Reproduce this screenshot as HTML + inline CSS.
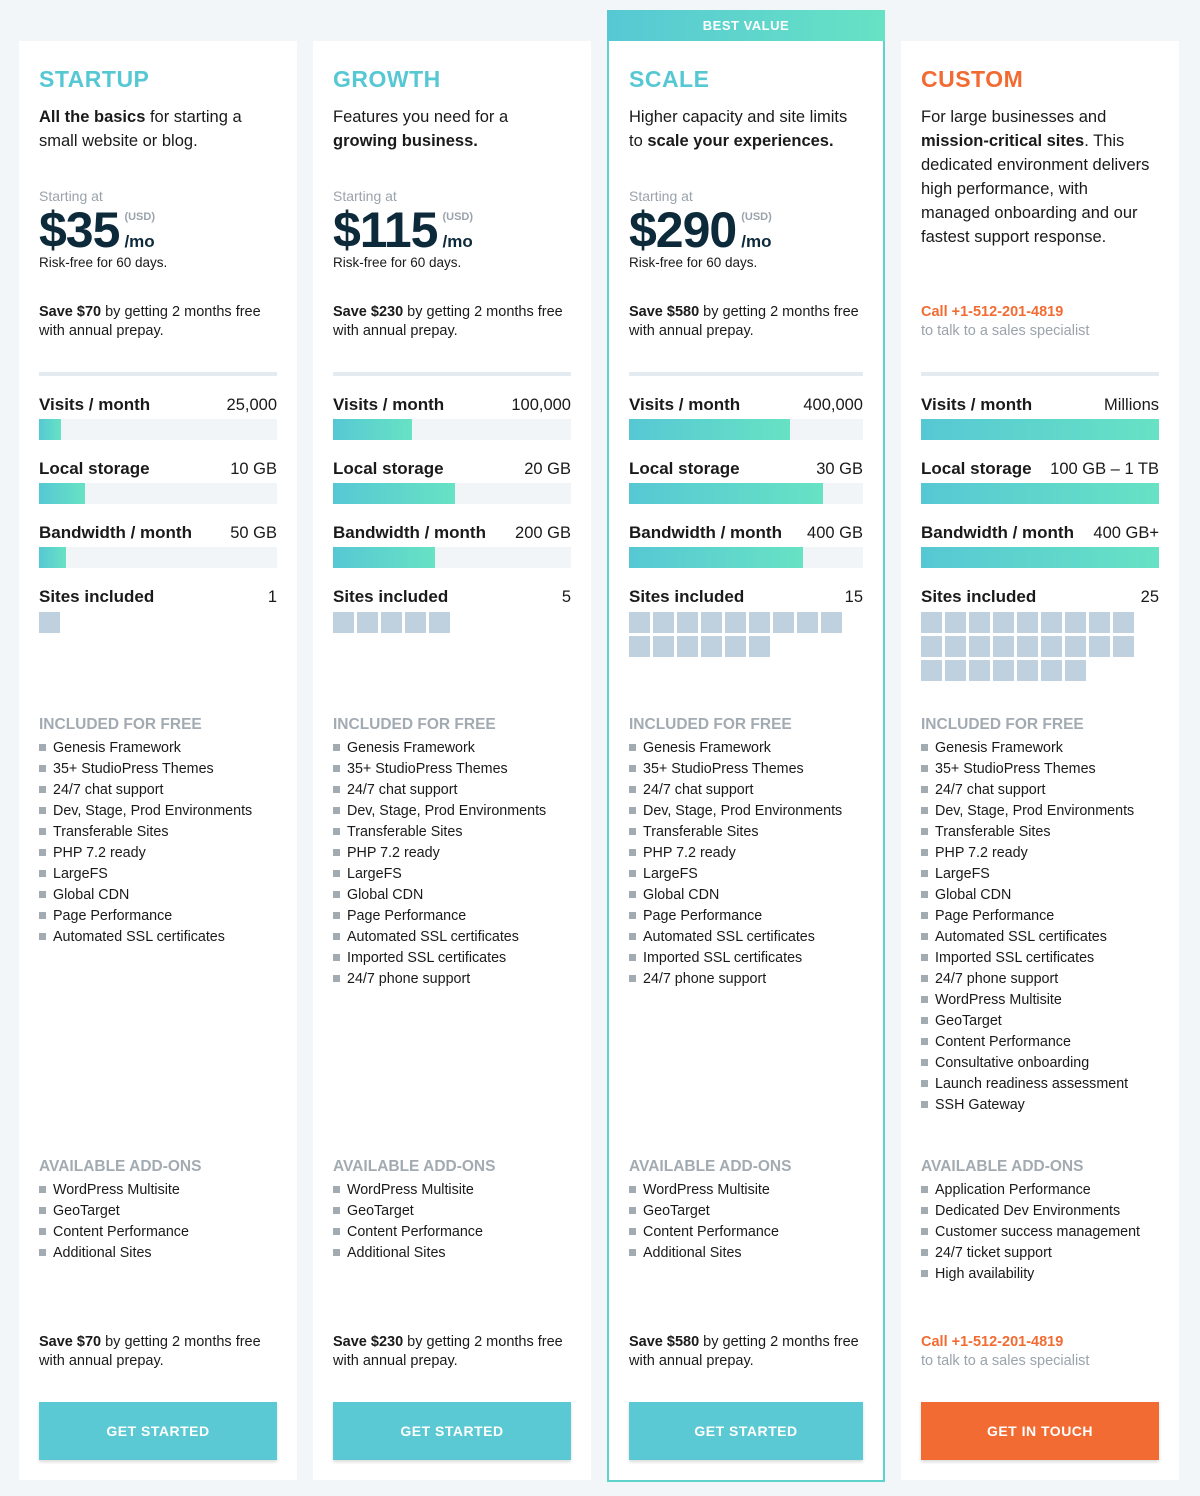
<!DOCTYPE html>
<html><head><meta charset="utf-8"><style>
*{margin:0;padding:0;box-sizing:border-box}
body{width:1200px;height:1496px;background:#f3f6f9;font-family:"Liberation Sans",sans-serif;color:#1a1a1a;position:relative;overflow:hidden}
.card{position:absolute;background:#fff;top:41px;height:1439px}
.col{position:absolute;top:0}
.a{position:absolute;left:0;white-space:nowrap}
.t{top:65px;font-size:23px;font-weight:bold;line-height:28px;color:#56c8d4;letter-spacing:.5px}
.d{top:105px;font-size:16.5px;line-height:24px}
.sa{top:187px;font-size:14px;line-height:18px;color:#9aa3ab}
.pr{top:201px;height:58px;display:flex}
.num{font-size:50px;font-weight:bold;line-height:58px;color:#0d2a3b;letter-spacing:-1px}
.sm{position:relative;width:44px;margin-left:5px}
.usd{position:absolute;top:9px;left:0;font-size:11px;font-weight:bold;color:#9aa3ab;line-height:14px}
.mo{position:absolute;top:31px;left:0;font-size:17px;font-weight:bold;color:#0d2a3b;line-height:20px}
.rf{top:254px;font-size:13.5px;line-height:18px}
.sv{font-size:14.5px;line-height:19px}
.dv{top:372px;height:4px;background:#e3eaf0}
.lb{font-size:17px;font-weight:bold;line-height:20px;display:flex;justify-content:space-between}
.lb span{font-weight:normal;font-size:16.5px}
.tr{height:21px;background:#f2f5f8}
.tr i{display:block;height:21px;background:linear-gradient(90deg,#56c8d4,#67e2c4)}
.bx{top:612px;display:flex;flex-wrap:wrap;gap:3px;white-space:normal}
.bx i{width:21px;height:21px;background:#bfd0df;display:block}
.h{font-size:15.5px;font-weight:bold;color:#a3abb2;line-height:20px}
ul{list-style:none;font-size:14.3px;line-height:21px}
li:before{content:"";display:inline-block;width:7px;height:7px;background:#a3abb2;margin-right:7px;vertical-align:1px}
.bt{top:1402px;height:58px;background:#5bc9d3;color:#fff;font-weight:bold;font-size:14px;letter-spacing:.5px;text-align:center;line-height:58px;box-shadow:0 2px 3px rgba(0,0,0,.15)}
.or{color:#f26b32}
.gr{color:#9aa3ab}
</style></head><body>

<div class="card" style="left:19px;width:278px"></div>
<div class="card" style="left:313px;width:278px"></div>
<div class="card" style="left:901px;width:278px"></div>
<div style="position:absolute;left:607px;top:10px;width:278px;height:1472px;border:2px solid #5dd3cc;background:#fff"></div>
<div style="position:absolute;left:607px;top:10px;width:278px;height:31px;background:linear-gradient(90deg,#56c8d4,#67e2c4);color:#fff;font-weight:bold;font-size:13px;text-align:center;line-height:31px;letter-spacing:.5px">BEST VALUE</div>

<!-- col 1 -->
<div class="col" style="left:39px;width:238px">
<div class="a t">STARTUP</div>
<div class="a d"><b>All the basics</b> for starting a<br>small website or blog.</div>
<div class="a sa">Starting at</div>
<div class="a pr"><span class="num">$35</span><span class="sm"><span class="usd">(USD)</span><span class="mo">/mo</span></span></div>
<div class="a rf">Risk-free for 60 days.</div>
<div class="a sv" style="top:303px"><b>Save $70</b> by getting 2 months free<br>with annual prepay.</div>
<div class="a dv" style="width:238px"></div>
<div class="a lb" style="top:395px;width:238px">Visits / month<span>25,000</span></div>
<div class="a tr" style="top:419px;width:238px"><i style="width:22px"></i></div>
<div class="a lb" style="top:459px;width:238px">Local storage<span>10 GB</span></div>
<div class="a tr" style="top:483px;width:238px"><i style="width:46px"></i></div>
<div class="a lb" style="top:523px;width:238px">Bandwidth / month<span>50 GB</span></div>
<div class="a tr" style="top:547px;width:238px"><i style="width:27px"></i></div>
<div class="a lb" style="top:587px;width:238px">Sites included<span>1</span></div>
<div class="a bx" style="width:238px"><i></i></div>
<div class="a h" style="top:715px">INCLUDED FOR FREE</div>
<ul class="a" style="top:738px"><li>Genesis Framework</li><li>35+ StudioPress Themes</li><li>24/7 chat support</li><li>Dev, Stage, Prod Environments</li><li>Transferable Sites</li><li>PHP 7.2 ready</li><li>LargeFS</li><li>Global CDN</li><li>Page Performance</li><li>Automated SSL certificates</li></ul>
<div class="a h" style="top:1157px">AVAILABLE ADD-ONS</div>
<ul class="a" style="top:1180px"><li>WordPress Multisite</li><li>GeoTarget</li><li>Content Performance</li><li>Additional Sites</li></ul>
<div class="a sv" style="top:1333px"><b>Save $70</b> by getting 2 months free<br>with annual prepay.</div>
<div class="a bt" style="width:238px">GET STARTED</div>
</div>

<!-- col 2 -->
<div class="col" style="left:333px;width:238px">
<div class="a t">GROWTH</div>
<div class="a d">Features you need for a<br><b>growing business.</b></div>
<div class="a sa">Starting at</div>
<div class="a pr"><span class="num">$115</span><span class="sm"><span class="usd">(USD)</span><span class="mo">/mo</span></span></div>
<div class="a rf">Risk-free for 60 days.</div>
<div class="a sv" style="top:303px"><b>Save $230</b> by getting 2 months free<br>with annual prepay.</div>
<div class="a dv" style="width:238px"></div>
<div class="a lb" style="top:395px;width:238px">Visits / month<span>100,000</span></div>
<div class="a tr" style="top:419px;width:238px"><i style="width:79px"></i></div>
<div class="a lb" style="top:459px;width:238px">Local storage<span>20 GB</span></div>
<div class="a tr" style="top:483px;width:238px"><i style="width:122px"></i></div>
<div class="a lb" style="top:523px;width:238px">Bandwidth / month<span>200 GB</span></div>
<div class="a tr" style="top:547px;width:238px"><i style="width:102px"></i></div>
<div class="a lb" style="top:587px;width:238px">Sites included<span>5</span></div>
<div class="a bx" style="width:238px"><i></i><i></i><i></i><i></i><i></i></div>
<div class="a h" style="top:715px">INCLUDED FOR FREE</div>
<ul class="a" style="top:738px"><li>Genesis Framework</li><li>35+ StudioPress Themes</li><li>24/7 chat support</li><li>Dev, Stage, Prod Environments</li><li>Transferable Sites</li><li>PHP 7.2 ready</li><li>LargeFS</li><li>Global CDN</li><li>Page Performance</li><li>Automated SSL certificates</li><li>Imported SSL certificates</li><li>24/7 phone support</li></ul>
<div class="a h" style="top:1157px">AVAILABLE ADD-ONS</div>
<ul class="a" style="top:1180px"><li>WordPress Multisite</li><li>GeoTarget</li><li>Content Performance</li><li>Additional Sites</li></ul>
<div class="a sv" style="top:1333px"><b>Save $230</b> by getting 2 months free<br>with annual prepay.</div>
<div class="a bt" style="width:238px">GET STARTED</div>
</div>

<!-- col 3 -->
<div class="col" style="left:629px;width:234px">
<div class="a t">SCALE</div>
<div class="a d">Higher capacity and site limits<br>to <b>scale your experiences.</b></div>
<div class="a sa">Starting at</div>
<div class="a pr"><span class="num">$290</span><span class="sm"><span class="usd">(USD)</span><span class="mo">/mo</span></span></div>
<div class="a rf">Risk-free for 60 days.</div>
<div class="a sv" style="top:303px"><b>Save $580</b> by getting 2 months free<br>with annual prepay.</div>
<div class="a dv" style="width:234px"></div>
<div class="a lb" style="top:395px;width:234px">Visits / month<span>400,000</span></div>
<div class="a tr" style="top:419px;width:234px"><i style="width:161px"></i></div>
<div class="a lb" style="top:459px;width:234px">Local storage<span>30 GB</span></div>
<div class="a tr" style="top:483px;width:234px"><i style="width:194px"></i></div>
<div class="a lb" style="top:523px;width:234px">Bandwidth / month<span>400 GB</span></div>
<div class="a tr" style="top:547px;width:234px"><i style="width:174px"></i></div>
<div class="a lb" style="top:587px;width:234px">Sites included<span>15</span></div>
<div class="a bx" style="width:220px"><i></i><i></i><i></i><i></i><i></i><i></i><i></i><i></i><i></i><i></i><i></i><i></i><i></i><i></i><i></i></div>
<div class="a h" style="top:715px">INCLUDED FOR FREE</div>
<ul class="a" style="top:738px"><li>Genesis Framework</li><li>35+ StudioPress Themes</li><li>24/7 chat support</li><li>Dev, Stage, Prod Environments</li><li>Transferable Sites</li><li>PHP 7.2 ready</li><li>LargeFS</li><li>Global CDN</li><li>Page Performance</li><li>Automated SSL certificates</li><li>Imported SSL certificates</li><li>24/7 phone support</li></ul>
<div class="a h" style="top:1157px">AVAILABLE ADD-ONS</div>
<ul class="a" style="top:1180px"><li>WordPress Multisite</li><li>GeoTarget</li><li>Content Performance</li><li>Additional Sites</li></ul>
<div class="a sv" style="top:1333px"><b>Save $580</b> by getting 2 months free<br>with annual prepay.</div>
<div class="a bt" style="width:234px">GET STARTED</div>
</div>

<!-- col 4 -->
<div class="col" style="left:921px;width:238px">
<div class="a t or">CUSTOM</div>
<div class="a d">For large businesses and<br><b>mission-critical sites</b>. This<br>dedicated environment delivers<br>high performance, with<br>managed onboarding and our<br>fastest support response.</div>
<div class="a sv" style="top:303px"><b class="or">Call +1-512-201-4819</b><br><span class="gr">to talk to a sales specialist</span></div>
<div class="a dv" style="width:238px"></div>
<div class="a lb" style="top:395px;width:238px">Visits / month<span>Millions</span></div>
<div class="a tr" style="top:419px;width:238px"><i style="width:238px"></i></div>
<div class="a lb" style="top:459px;width:238px">Local storage<span>100 GB – 1 TB</span></div>
<div class="a tr" style="top:483px;width:238px"><i style="width:238px"></i></div>
<div class="a lb" style="top:523px;width:238px">Bandwidth / month<span>400 GB+</span></div>
<div class="a tr" style="top:547px;width:238px"><i style="width:238px"></i></div>
<div class="a lb" style="top:587px;width:238px">Sites included<span>25</span></div>
<div class="a bx" style="width:220px"><i></i><i></i><i></i><i></i><i></i><i></i><i></i><i></i><i></i><i></i><i></i><i></i><i></i><i></i><i></i><i></i><i></i><i></i><i></i><i></i><i></i><i></i><i></i><i></i><i></i></div>
<div class="a h" style="top:715px">INCLUDED FOR FREE</div>
<ul class="a" style="top:738px"><li>Genesis Framework</li><li>35+ StudioPress Themes</li><li>24/7 chat support</li><li>Dev, Stage, Prod Environments</li><li>Transferable Sites</li><li>PHP 7.2 ready</li><li>LargeFS</li><li>Global CDN</li><li>Page Performance</li><li>Automated SSL certificates</li><li>Imported SSL certificates</li><li>24/7 phone support</li><li>WordPress Multisite</li><li>GeoTarget</li><li>Content Performance</li><li>Consultative onboarding</li><li>Launch readiness assessment</li><li>SSH Gateway</li></ul>
<div class="a h" style="top:1157px">AVAILABLE ADD-ONS</div>
<ul class="a" style="top:1180px"><li>Application Performance</li><li>Dedicated Dev Environments</li><li>Customer success management</li><li>24/7 ticket support</li><li>High availability</li></ul>
<div class="a sv" style="top:1333px"><b class="or">Call +1-512-201-4819</b><br><span class="gr">to talk to a sales specialist</span></div>
<div class="a bt" style="width:238px;background:#f26b32">GET IN TOUCH</div>
</div>

</body></html>
